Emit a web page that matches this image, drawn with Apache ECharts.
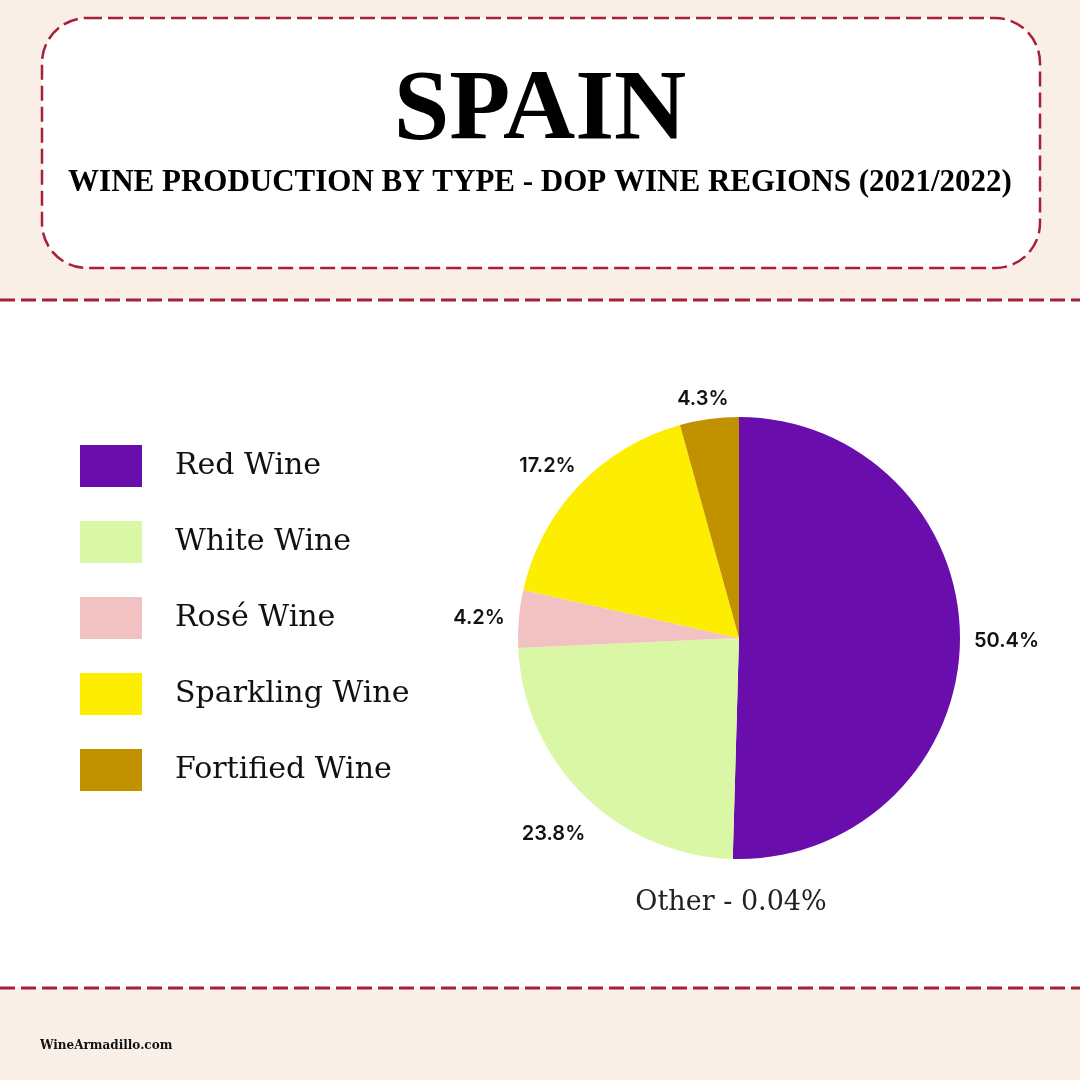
<!DOCTYPE html>
<html lang="en" style="height: 100%">
<head>
    <meta charset="utf-8">
    <title>Spain wine production by type</title>
    <script src="https://cdn.jsdelivr.net/npm/echarts@6/dist/echarts.min.js"></script>
</head>
<body style="height: 100%; margin: 0; background: #f9efe6">
    <div id="main" style="width: 1080px; height: 1080px"></div>
    <script type="text/javascript">
        // data
        var wineTypes  = ['Red Wine', 'White Wine', 'Rosé Wine', 'Sparkling Wine', 'Fortified Wine'];
        var shares     = [50.4, 23.8, 4.2, 17.2, 4.3];
        var wineColors = ['#6a0dad', '#daf7a6', '#f2c1c2', '#fded00', '#c29100'];
        var otherShare = 0.04;

        // per slice label nudges (line length, distance to line, padding)
        var labelLen  = [10, 54, 10, 29, 20];
        var labelDist = [4, -39, 4, -18, -22];
        var labelPad  = [[14, 0, 0, 0], 0, [12, 0, 0, 0], 0, 0];

        var beige = '#f9efe6';
        var wine  = '#a6203d';

        var myChart = echarts.init(document.getElementById('main'));

        var option = {
            backgroundColor: beige,
            animation: false,
            color: wineColors,
            legend: {
                orient: 'vertical',
                left: 80,
                top: 445,
                padding: 0,
                itemWidth: 62,
                itemHeight: 42,
                itemGap: 34,
                icon: 'rect',
                selectedMode: false,
                data: wineTypes,
                textStyle: {
                    fontFamily: 'DejaVu Serif',
                    fontSize: 30,
                    color: '#111',
                    padding: [0, 0, 0, 28]
                }
            },
            graphic: [
                // white middle band + dashed lines
                { type: 'rect', z: -10, shape: { x: 0, y: 300, width: 1080, height: 688 }, style: { fill: '#fff' } },
                { type: 'line', z: -5, shape: { x1: 0, y1: 300, x2: 1080, y2: 300 }, style: { stroke: wine, lineWidth: 3, lineDash: [15, 6] } },
                { type: 'line', z: -5, shape: { x1: 0, y1: 988, x2: 1080, y2: 988 }, style: { stroke: wine, lineWidth: 3, lineDash: [15, 6] } },
                // header box
                { type: 'rect', z: -5, shape: { x: 42, y: 18, width: 998, height: 250, r: 45 }, style: { fill: '#fff', stroke: wine, lineWidth: 2.5, lineDash: [15, 6] } },
                { type: 'text', left: 'center', top: 62, style: { text: 'SPAIN', fontFamily: 'Liberation Serif', fontWeight: 'bold', fontSize: 100, fill: '#000' } },
                { type: 'text', left: 'center', top: 167, style: { text: 'WINE PRODUCTION BY TYPE - DOP WINE REGIONS (2021/2022)', fontFamily: 'Liberation Serif', fontWeight: 'bold', fontSize: 31, fill: '#000' } },
                // note under the pie
                { type: 'text', x: 731, y: 903, style: { text: 'Other - ' + otherShare + '%', align: 'center', verticalAlign: 'middle', fontFamily: 'DejaVu Serif', fontSize: 27, fill: '#222' } },
                // footer
                { type: 'text', x: 40, y: 1046, style: { text: 'WineArmadillo.com', verticalAlign: 'middle', fontFamily: 'DejaVu Serif', fontWeight: 'bold', fontSize: 12, fill: '#111' } }
            ],
            series: [
                {
                    type: 'pie',
                    center: [739, 638],
                    radius: 221,
                    startAngle: 90,
                    clockwise: true,
                    avoidLabelOverlap: false,
                    label: {
                        show: true,
                        position: 'outside',
                        formatter: '{c}%',
                        fontFamily: 'Inter',
                        fontWeight: 600,
                        fontSize: 20,
                        color: '#111'
                    },
                    labelLine: { show: false, length: 10, length2: 0 },
                    emphasis: { disabled: true },
                    data: wineTypes.map(function (n, i) {
                        return {
                            name: n,
                            value: shares[i],
                            label: { distanceToLabelLine: labelDist[i], padding: labelPad[i] },
                            labelLine: { length: labelLen[i] }
                        };
                    })
                }
            ]
        };

        myChart.setOption(option);
    </script>
</body>
</html>
